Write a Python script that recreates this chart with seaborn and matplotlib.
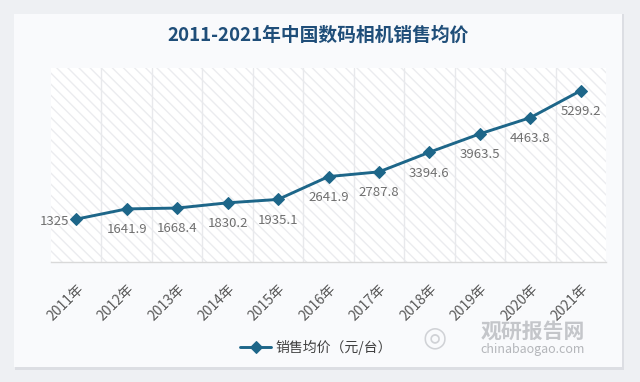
import matplotlib
matplotlib.use("Agg")
import matplotlib.pyplot as plt
import seaborn as sns
import pandas as pd
from matplotlib.patches import Rectangle

years = ["2011年", "2012年", "2013年", "2014年", "2015年", "2016年",
         "2017年", "2018年", "2019年", "2020年", "2021年"]
prices = [1325, 1641.9, 1668.4, 1830.2, 1935.1, 2641.9,
          2787.8, 3394.6, 3963.5, 4463.8, 5299.2]
series_name = "销售均价（元/台）"
title = "2011-2021年中国数码相机销售均价"

df = pd.DataFrame({"year": years, "price": prices, "series": series_name})
df["pos"] = range(len(years))

sns.set_theme(style="white")
plt.rcParams["font.family"] = ["Noto Sans CJK SC", "DejaVu Sans"]
plt.rcParams["hatch.color"] = "#ebecef"
plt.rcParams["hatch.linewidth"] = 1.0

fig = plt.figure(figsize=(6.4, 3.82), dpi=100)
fig.patch.set_facecolor("#eef0f3")

# card with shadow
shadow = Rectangle((15 / 640, 1 - 370 / 382), 609 / 640, 356 / 382,
                   transform=fig.transFigure, facecolor="#dcdee3",
                   edgecolor="none", zorder=-3)
card = Rectangle((14 / 640, 1 - 367 / 382), 608 / 640, 353 / 382,
                 transform=fig.transFigure, facecolor="#f9fafc",
                 edgecolor="none", zorder=-2)
fig.patches.extend([shadow, card])

ax = fig.add_axes([51 / 640, 1 - 262 / 382, 555 / 640, 194 / 382])
ax.set_facecolor("white")
ax.add_patch(Rectangle((0, 0), 1, 1, transform=ax.transAxes,
                       facecolor="white", edgecolor="#ebecef",
                       hatch="\\\\\\", linewidth=0, zorder=0))

line_color = "#1d6689"
sns.lineplot(data=df, x="pos", y="price", hue="series", ax=ax,
             palette=[line_color], marker="D", markersize=6.5,
             linewidth=2.1, markeredgecolor=line_color, zorder=3)

ax.set_xlim(-0.5, len(years) - 0.5)
ax.set_ylim(0, 6000)
ax.set_xticks(range(len(years)))
ax.set_xticklabels(years, rotation=45, ha="right", rotation_mode="anchor",
                   fontsize=10, color="#595959")
ax.tick_params(axis="x", length=0, pad=14)
ax.set_yticks([])
ax.set_xlabel("")
ax.set_ylabel("")

for x in range(len(years) - 1):
    ax.axvline(x + 0.5, color="#e8e9ec", linewidth=1.0, zorder=1)

for s in ["top", "left", "right"]:
    ax.spines[s].set_visible(False)
ax.spines["bottom"].set_color("#d9d9d9")
ax.spines["bottom"].set_linewidth(1)

for i, (x, v) in enumerate(zip(df["pos"], prices)):
    label = f"{v:g}"
    if i == 0:
        ax.annotate(label, (x, v), xytext=(-16, -2), textcoords="offset points",
                    ha="center", va="center", fontsize=9.5, color="#6f6f6f")
    else:
        ax.annotate(label, (x, v), xytext=(0, -15), textcoords="offset points",
                    ha="center", va="center", fontsize=9.5, color="#6f6f6f")

leg = ax.legend(loc="center", bbox_to_anchor=(316 / 640, 1 - 347 / 382),
                bbox_transform=fig.transFigure, frameon=False, fontsize=10,
                handlelength=2.2, handletextpad=0.3)
for t in leg.get_texts():
    t.set_color("#404040")

fig.text(318 / 640, 1 - 35 / 382, title, ha="center", va="center",
         fontsize=13.5, fontweight="bold", color="#1f4e79")

# watermark
fig.text(533 / 640, 1 - 331 / 382, "观研报告网", ha="center", va="center",
         fontsize=15, fontweight="bold", color="#c4c6ca")
fig.text(533 / 640, 1 - 349 / 382, "chinabaogao.com", ha="center", va="center",
         fontsize=9, color="#b4b6ba")
fig.text(435 / 640, 1 - 337 / 382, "◎", ha="center", va="center",
         fontsize=20, color="#d0d2d6", family=["DejaVu Sans"])

fig.savefig("out.png", dpi=100, facecolor=fig.get_facecolor())
